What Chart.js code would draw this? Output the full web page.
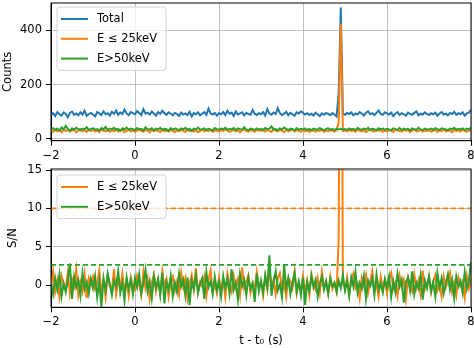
<!DOCTYPE html>
<html>
<head>
<meta charset="utf-8">
<script src="https://cdn.jsdelivr.net/npm/chart.js@4"></script>
<style>
  html, body { margin: 0; padding: 0; background: #fff; }
  #wrap { position: relative; width: 474px; height: 348px; }
  canvas { position: absolute; left: 0; }
  #top { top: 0; }
  #bot { top: 163px; }
</style>
</head>
<body>
<div id="wrap">
  <canvas id="top" width="474" height="163"></canvas>
  <canvas id="bot" width="474" height="185"></canvas>
</div>
<script>
// time bins: t - t0 from -2 s, 0.05 s per bin
const T0 = -2, DT = 0.05;
const xTicks = [-2, 0, 2, 4, 6, 8];
const countTicks = [0, 200, 400];
const snTicks = [0, 5, 10, 15];

// counts per bin
const total = [
  88,95,84,99,91,86,97,93,80,96,101,89,94,87,98,90,104,85,92,96,
  90,83,99,94,88,102,91,95,86,100,93,105,89,97,92,108,94,87,99,95,
  91,103,96,88,110,93,97,90,101,94,86,99,92,104,95,89,98,93,87,96,
  92,85,97,90,94,88,100,83,95,91,98,87,93,99,89,112,94,90,96,86,
  95,91,99,88,104,93,97,85,101,90,94,98,87,96,92,89,107,93,88,95,
  91,99,86,110,94,89,97,92,113,95,88,93,100,87,96,91,85,98,94,102,
  96,90,95,88,93,86,97,91,84,94,89,96,92,87,95,90,83,169,484,93,
  89,96,92,98,87,94,90,99,93,86,97,102,91,95,88,96,105,92,89,98,
  94,90,97,84,93,99,88,95,91,86,97,92,89,96,101,87,93,90,98,92,
  88,95,91,97,86,94,99,90,93,87,96,92,100,89,95,91,98,86,94,97,
  108
];
const lowCounts = [
  30,26,34,28,32,25,36,29,33,27,31,35,24,30,37,28,32,26,34,29,
  33,27,31,25,35,30,28,34,26,32,29,36,27,31,33,25,30,34,28,32,
  26,31,35,29,27,33,30,24,34,28,32,30,26,35,29,31,27,33,30,25,
  32,28,34,30,26,36,29,31,27,33,25,30,35,28,32,29,34,26,31,30,
  27,33,29,35,31,26,30,34,28,32,25,31,36,29,27,33,30,26,34,31,
  29,32,27,35,30,26,38,31,28,34,30,25,33,29,31,36,27,32,30,26,
  33,28,31,25,34,30,27,32,29,35,26,31,28,33,30,27,32,62,424,29,
  31,27,34,29,32,26,35,30,28,33,25,31,36,29,27,34,30,32,26,31,
  28,33,30,26,35,31,29,27,34,30,32,25,31,36,28,30,33,27,31,29,
  32,27,30,34,26,31,29,35,28,32,30,25,33,29,31,27,34,30,26,32,
  30
];
const highCounts = [
  36,40,33,38,31,42,35,48,37,30,39,34,41,36,32,38,35,43,33,37,
  39,34,36,31,40,35,44,32,38,36,41,33,37,30,39,35,42,34,38,36,
  33,40,35,37,31,43,36,34,39,32,38,35,41,33,37,36,30,40,34,38,
  36,32,39,35,41,33,37,30,38,35,42,34,36,39,33,37,35,31,40,36,
  34,38,36,41,33,37,35,40,32,39,36,34,43,35,31,38,36,33,39,35,
  37,33,40,35,38,46,34,36,32,39,35,42,37,33,38,36,31,40,34,37,
  35,39,33,37,31,38,36,34,40,35,32,37,39,34,36,33,38,35,37,34,
  36,33,39,35,37,32,40,36,34,38,35,41,33,37,36,31,39,35,38,34,
  37,35,32,39,36,34,40,33,38,35,37,31,39,36,34,41,35,33,38,36,
  35,38,34,40,36,33,39,37,35,32,38,36,41,34,37,35,39,33,38,36,
  42
];

// signal to noise per bin
const lowSN = [
  -0.4,1.8,-0.9,0.6,-1.5,1.2,0.2,-0.6,1.6,-1.1,0.8,-0.2,2.0,-1.3,0.4,-0.8,1.4,-1.7,0.9,0.1,
  1.1,-0.5,0.3,1.9,-1.0,0.6,-1.6,1.3,0.0,-0.7,2.1,-1.2,0.5,-0.3,1.5,-0.9,0.7,-1.4,1.0,-0.1,
  -0.6,1.2,0.2,-1.3,1.7,-0.4,0.9,-1.8,0.3,1.4,-0.8,0.6,-1.1,1.8,-0.2,0.8,-1.5,0.4,1.1,-0.7,
  0.5,-1.2,1.6,-0.3,0.9,-1.7,0.2,1.3,-0.6,2.2,-1.0,0.4,-0.2,1.1,-1.4,0.7,1.9,-0.8,0.1,-1.1,
  1.0,-0.5,0.6,-1.6,1.5,0.0,-0.9,1.2,-0.3,0.8,-1.3,2.3,-0.4,0.5,1.3,-1.0,0.3,-0.7,1.7,-0.2,
  0.4,-1.4,1.1,-0.6,2.0,-0.1,0.7,-1.2,0.9,1.6,-0.8,0.2,-1.5,1.0,0.5,-0.4,1.8,-1.1,0.3,-0.7,
  1.2,-0.9,0.6,-1.3,1.4,0.1,-0.6,0.9,-1.0,1.7,-0.3,0.5,-1.2,1.1,-0.5,0.3,-0.8,6.2,70,0.4,
  -0.6,1.0,-1.3,0.7,1.5,-0.4,0.2,-1.7,0.9,-0.2,1.3,-1.0,0.4,1.8,-0.7,0.1,-1.5,1.1,-0.3,0.6,
  -1.1,0.8,1.6,-0.5,0.3,-1.4,1.2,-0.2,0.7,-1.8,1.0,0.0,-0.8,1.4,-0.4,0.6,-1.2,1.9,-0.6,0.2,
  0.9,-1.0,0.4,1.3,-0.7,0.1,-1.5,1.1,-0.3,0.7,1.6,-0.9,0.3,-1.3,1.0,-0.1,0.5,-1.6,1.2,-0.4,
  0.8
];
const highSN = [
  0.3,-1.2,0.9,-0.6,1.4,-1.5,0.2,-0.9,0.6,2.8,-1.8,1.1,-0.3,0.7,-1.4,1.6,-0.5,0.4,-1.1,0.8,
  -0.4,1.2,-1.6,0.5,-2.9,0.9,-0.7,1.5,0.1,-1.3,0.6,-0.2,1.8,-1.0,0.3,-2.0,1.0,-0.5,0.7,-1.2,
  0.9,-0.3,1.4,-1.1,0.2,2.0,-0.8,0.5,-1.7,1.1,-0.4,0.8,-1.3,1.6,-2.4,0.4,-0.6,1.2,-1.5,0.3,
  -0.9,1.5,-0.2,0.7,-1.4,1.0,-2.6,0.6,-0.5,1.3,-1.0,0.2,0.9,-1.8,1.7,-0.3,0.5,-1.2,1.1,-0.7,
  0.4,-1.5,1.2,-0.4,0.8,-1.1,2.1,-0.6,0.3,-1.9,1.4,-0.2,0.7,-1.3,1.0,-0.5,0.2,-2.2,1.5,-0.8,
  0.6,-1.0,1.3,-0.3,3.9,-1.4,0.5,1.8,-0.7,0.1,-1.6,2.6,-0.4,0.9,-1.2,0.3,1.6,-0.9,0.5,-1.3,
  1.0,-2.6,0.4,-0.8,1.2,-0.3,0.7,-1.5,0.2,1.1,-0.6,0.5,-1.1,0.8,-0.2,0.3,-0.9,0.6,-0.4,1.3,
  -0.7,0.5,-1.4,1.0,-0.2,1.7,-1.0,0.3,-0.5,1.2,-1.8,0.6,-0.1,0.9,-1.3,1.4,-0.6,0.2,-1.0,0.8,
  -0.3,1.1,-1.6,0.5,-0.9,1.5,-0.2,0.7,-2.3,0.4,1.0,-0.7,1.8,-1.2,0.3,-0.5,1.3,-1.9,0.6,-0.4,
  1.2,-0.8,0.4,-1.5,1.6,-0.3,0.9,-1.1,0.2,1.4,-0.6,0.7,-1.7,1.1,-0.2,0.5,-1.0,1.7,-0.5,0.6,
  3.0
];

// detection thresholds
const lowThresh = 10;
const highThresh = 2.65;

const blue = '#1f77b4', orange = '#ff7f0e', green = '#2ca02c';
const FAM = "'DejaVu Sans', sans-serif";
const FONT = { family: FAM, size: 11.5 };

const pts = arr => arr.map((v, i) => ({ x: T0 + i * DT, y: v }));
const hline = v => [{ x: xTicks[0], y: v }, { x: xTicks[xTicks.length - 1], y: v }];
const minus = v => (v < 0 ? '\u2212' + Math.abs(v) : String(v));

// matplotlib-like box around the axes
const framePlugin = {
  id: 'frame',
  afterDatasetsDraw(chart) {
    const { ctx, chartArea: a } = chart;
    ctx.save();
    ctx.strokeStyle = '#000';
    ctx.lineWidth = 1;
    ctx.strokeRect(a.left, a.top, a.right - a.left, a.bottom - a.top);
    ctx.restore();
  }
};

// legend in a rounded box, upper left
const boxLegend = {
  id: 'boxLegend',
  afterDatasetsDraw(chart, args, opts) {
    const items = chart.data.datasets.filter(d => d.inLegend);
    const { ctx, chartArea: a } = chart;
    const x = a.left + 6, y = a.top + opts.top;
    const w = 109, h = items.length * 19.8 + 4;
    ctx.save();
    ctx.beginPath();
    ctx.roundRect(x, y, w, h, 3);
    ctx.fillStyle = 'rgba(255,255,255,0.8)';
    ctx.fill();
    ctx.strokeStyle = '#d4d4d4';
    ctx.lineWidth = 1;
    ctx.stroke();
    ctx.font = '11.5px ' + FAM;
    ctx.textBaseline = 'middle';
    items.forEach((d, i) => {
      const cy = y + 12 + i * 19.8;
      ctx.strokeStyle = d.borderColor;
      ctx.lineWidth = 2;
      ctx.beginPath();
      ctx.moveTo(x + 4, cy);
      ctx.lineTo(x + 31, cy);
      ctx.stroke();
      ctx.fillStyle = '#000';
      ctx.fillText(d.label, x + 40, cy);
    });
    ctx.restore();
  }
};

function axes(yMin, yMax, yTicks, yTitle, yWidth, xHeight, xTitle) {
  const grid = { color: '#b0b0b0', lineWidth: 0.8, tickColor: '#000', tickLength: 5, tickWidth: 1 };
  return {
    x: {
      type: 'linear', min: xTicks[0], max: xTicks[xTicks.length - 1],
      afterBuildTicks: s => { s.ticks = xTicks.map(v => ({ value: v })); },
      afterFit: s => { s.height = xHeight; s.paddingLeft = 0; s.paddingRight = 0; },
      grid: grid,
      border: { color: '#000', width: 1 },
      ticks: { color: '#000', font: FONT, padding: 3, maxRotation: 0, autoSkip: false, callback: minus },
      title: xTitle
        ? { display: true, text: xTitle, color: '#000', font: FONT, padding: { top: 0, bottom: 0 } }
        : { display: false }
    },
    y: {
      min: yMin, max: yMax,
      afterBuildTicks: s => { s.ticks = yTicks.map(v => ({ value: v })); },
      afterFit: s => { s.width = yWidth; s.paddingTop = 0; s.paddingBottom = 0; },
      grid: grid,
      border: { color: '#000', width: 1 },
      ticks: { color: '#000', font: FONT, padding: 4, autoSkip: false, callback: minus },
      title: { display: true, text: yTitle, color: '#000', font: FONT, padding: { top: 1.5, bottom: 0 } }
    }
  };
}

const line = (label, data, color, order) => ({
  label, data: pts(data), borderColor: color, backgroundColor: color,
  borderWidth: 2, pointRadius: 0, tension: 0, order, inLegend: true
});
const dashed = (label, value, color, order) => ({
  label, data: hline(value), borderColor: color, borderWidth: 1.8,
  borderDash: [5, 3], pointRadius: 0, order, inLegend: false
});

const common = {
  responsive: false,
  animation: false,
  events: [],
  plugins: { legend: { display: false }, tooltip: { enabled: false } }
};

new Chart(document.getElementById('top'), {
  type: 'line',
  data: {
    datasets: [
      line('Total', total, blue, 3),
      line('E \u2264 25keV', lowCounts, orange, 2),
      line('E>50keV', highCounts, green, 1)
    ]
  },
  options: Object.assign({}, common, {
    layout: { padding: { top: 3, right: 3, left: 0, bottom: 0 } },
    scales: axes(-6.5, 501, countTicks, 'Counts', 51, 22.3, null),
    plugins: Object.assign({}, common.plugins, { boxLegend: { top: 4 } })
  }),
  plugins: [framePlugin, boxLegend]
});

new Chart(document.getElementById('bot'), {
  type: 'line',
  data: {
    datasets: [
      line('E \u2264 25keV', lowSN, orange, 4),
      line('E>50keV', highSN, green, 3),
      dashed('low threshold', lowThresh, orange, 2),
      dashed('high threshold', highThresh, green, 1)
    ]
  },
  options: Object.assign({}, common, {
    layout: { padding: { top: 6, right: 3, left: 5, bottom: 0 } },
    scales: axes(-2.9, 15.15, snTicks, 'S/N', 46, 40.7, 't - t\u2080 (s)'),
    plugins: Object.assign({}, common.plugins, { boxLegend: { top: 6 } })
  }),
  plugins: [framePlugin, boxLegend]
});
</script>
</body>
</html>
